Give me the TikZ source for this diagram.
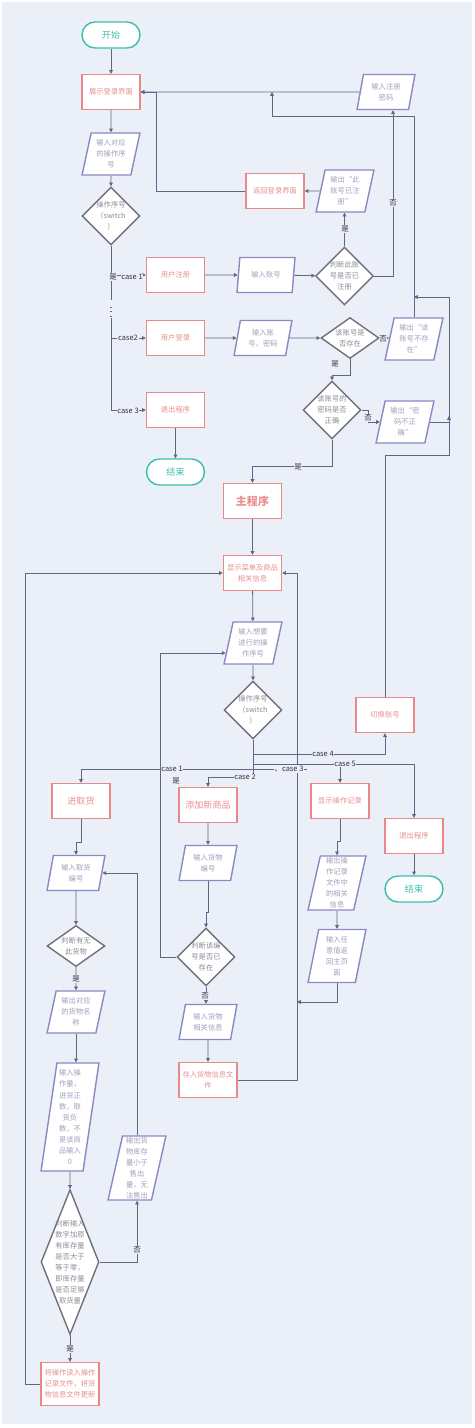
\documentclass[tikz,border=0pt]{standalone}
\usepackage{fontspec}
\setmainfont{Noto Sans CJK SC}
\usetikzlibrary{shapes.geometric,arrows.meta,calc}
\definecolor{bgblue}{RGB}{235,239,248}
\definecolor{procred}{RGB}{234,136,136}
\definecolor{proctext}{RGB}{232,142,142}
\definecolor{iopurple}{RGB}{140,136,196}
\definecolor{iotext}{RGB}{160,160,188}
\definecolor{judgegray}{RGB}{112,112,124}
\definecolor{judgetext}{RGB}{140,140,152}
\definecolor{termteal}{RGB}{62,190,172}
\definecolor{linegray}{RGB}{98,102,134}
\definecolor{lbltext}{RGB}{50,50,62}
\pgfdeclarelayer{bglayer}
\pgfdeclarelayer{edgelayer}
\pgfdeclarelayer{nodelayer}
\pgfsetlayers{bglayer,edgelayer,nodelayer,main}
\tikzstyle{tinytext}=[font=\fontsize{6.2}{9.4}\selectfont]
\tikzstyle{proc}=[rectangle,draw=procred,fill=white,text=proctext,line width=1.2pt,minimum width=1.74cm,minimum height=1.05cm,inner sep=1pt,align=center,tinytext]
\tikzstyle{io}=[trapezium,trapezium left angle=77,trapezium right angle=103,trapezium stretches=true,draw=iopurple,fill=white,text=iotext,line width=1.2pt,minimum width=1.74cm,minimum height=1.05cm,inner sep=0pt,align=center,tinytext]
\tikzstyle{judge}=[diamond,draw=judgegray,fill=white,line width=1.2pt,minimum width=1.74cm,minimum height=1.74cm,inner sep=0pt]
\tikzstyle{jtext}=[text=judgetext,align=center,inner sep=0pt,tinytext]
\tikzstyle{term}=[rectangle,rounded corners=0.39cm,draw=termteal,fill=white,text=termteal,line width=1.2pt,minimum width=1.74cm,minimum height=0.78cm,font=\fontsize{7.7}{9}\selectfont]
\tikzstyle{arrow}=[draw=linegray,line width=0.7pt,-{Triangle[length=3.2pt,width=3.2pt]}]
\tikzstyle{lbl}=[fill=bgblue,text=lbltext,inner sep=0.6pt,font=\fontsize{6.4}{7}\selectfont]
\begin{document}
\begin{tikzpicture}[x=0.03cm,y=-0.03cm]
	\useasboundingbox (0,0) rectangle (474,1428);
	\begin{pgfonlayer}{bglayer}
		\fill [white] (0,0) rectangle (474,1428);
		\fill [bgblue] (2,2) rectangle (472,1424);
	\end{pgfonlayer}
	\begin{pgfonlayer}{nodelayer}
		% login part
		\node [term] (0) at (111,35) {开始};
		\node [proc] (1) at (111,92) {展示登录界面};
		\node [io,minimum height=1.26cm] (2) at (111,154) {输入对应\\的操作序\\号};
		\node [judge,label={[jtext]center:操作序号\\（switch\\）}] (3) at (111,216) {};
		\node [io] (4) at (386,92) {输入注册\\密码};
		\node [proc] (5) at (275,191) {返回登录界面};
		\node [io,minimum height=1.26cm] (6) at (345,191) {输出“此\\账号已注\\册”};
		\node [proc] (7) at (175.5,275) {用户注册};
		\node [io] (8) at (266,275) {输入账号};
		\node [judge,label={[jtext]center:判断此账\\号是否已\\注册}] (9) at (344.5,276) {};
		\node [proc] (10) at (175.5,338) {用户登录};
		\node [io] (11) at (263,338) {输入账\\号、密码};
		\node [judge,minimum height=1.23cm,label={[jtext]center:该账号是\\否存在}] (12) at (350,338) {};
		\node [io,minimum height=1.26cm] (13) at (414,339) {输出“该\\账号不存\\在”};
		\node [judge,label={[jtext]center:该账号的\\密码是否\\正确}] (14) at (332,410) {};
		\node [io,minimum height=1.26cm] (15) at (405,422) {输出“密\\码不正\\确”};
		\node [proc] (16) at (175.5,410) {退出程序};
		\node [term] (17) at (175.5,472) {结束};
		% main program
		\node [proc,font={\bfseries\fontsize{9.4}{11}\selectfont}] (18) at (252.5,501) {主程序};
		\node [proc] (19) at (252.5,573) {显示菜单及商品\\相关信息};
		\node [io,minimum height=1.26cm] (20) at (253,643) {输入想要\\进行的操\\作序号};
		\node [judge,label={[jtext]center:操作序号\\（switch\\）}] (21) at (253,710) {};
		\node [proc] (22) at (385,715) {切换账号};
		\node [proc,font=\fontsize{7.7}{9}\selectfont] (23) at (81,801) {进取货};
		\node [proc,font=\fontsize{7.7}{9}\selectfont] (24) at (208,805) {添加新商品};
		\node [proc] (25) at (340,801) {显示操作记录};
		\node [proc] (26) at (414,836) {退出程序};
		\node [term] (27) at (414,889) {结束};
		\node [io] (28) at (76,873) {输入取货\\编号};
		\node [io] (29) at (208,863) {输入货物\\编号};
		\node [io,trapezium left angle=81,trapezium right angle=99,minimum height=1.62cm] (30) at (337,883) {输出操\\作记录\\文件中\\的相关\\信息};
		\node [io,trapezium left angle=81,trapezium right angle=99,minimum height=1.59cm] (31) at (337,956) {输入任\\意值返\\回主页\\面};
		\node [judge,minimum height=1.23cm,label={[jtext]center:判断有无\\此货物}] (32) at (76,946) {};
		\node [judge,label={[jtext]center:判断该编\\号是否已\\存在}] (33) at (206,957) {};
		\node [io,minimum height=1.26cm] (34) at (76,1012) {输出对应\\的货物名\\称};
		\node [io] (35) at (208,1022) {输入货物\\相关信息};
		\node [proc] (36) at (208,1080) {存入货物信息文\\件};
		\node [io,trapezium left angle=82,trapezium right angle=98,minimum height=3.24cm] (37) at (70,1117) {输入操\\作量，\\进货正\\数，取\\货负\\数，不\\是该商\\品输入\\0};
		\node [io,trapezium left angle=80,trapezium right angle=100,minimum height=1.92cm] (38) at (137,1168) {输出货\\物库存\\量小于\\售出\\量，无\\法售出};
		\node [judge,minimum height=4.35cm,label={[jtext]center:判断输入\\数字加原\\有库存量\\是否大于\\等于零，\\即库存量\\是否足够\\取货量}] (39) at (70,1262) {};
		\node [proc,minimum height=1.29cm] (40) at (70,1384) {将操作读入操作\\记录文件，将货\\物信息文件更新};
		% labels
		\node [lbl] (41) at (113,277) {是};
		\node [lbl] (42) at (132,277) {case 1};
		\node [lbl] (43) at (111,309) {$\vdots\!\vdots$};
		\node [lbl] (44) at (128,338) {case2};
		\node [lbl] (45) at (128,411) {case 3};
		\node [lbl] (46) at (345,229) {是};
		\node [lbl] (47) at (393,203) {否};
		\node [lbl] (48) at (383,339) {否};
		\node [lbl] (49) at (335,364) {是};
		\node [lbl] (50) at (368,418) {否};
		\node [lbl] (51) at (298,467) {是};
		\node [lbl] (52) at (323,754) {case 4};
		\node [lbl] (53) at (345,764) {case 5};
		\node [lbl] (54) at (289,769) {、case 3};
		\node [lbl] (55) at (172,769) {case 1};
		\node [lbl] (56) at (245,777) {case 2};
		\node [lbl] (57) at (176,781) {是};
		\node [lbl] (58) at (76,979) {是};
		\node [lbl] (59) at (205,996) {否};
		\node [lbl] (60) at (137,1250) {否};
		\node [lbl] (61) at (70,1349) {是};
		% bend points
		\node [] (c1) at (156,92) {};
		\node [] (c3) at (272,116) {};
		\node [] (c4) at (272,92) {};
		\node [] (c5) at (449,416) {};
		\node [] (c6) at (449,455) {};
		\node [] (c7) at (414,297) {};
		\node [] (c8) at (307,769) {};
		\node [] (c9) at (25,573) {};
		\node [] (c10) at (160,653) {};
		\node [] (c11) at ($(20.bottom left corner)!0.26!(20.top left corner)$) {};
		\node [] (c12) at (297,573) {};
		\node [] (c13) at (297,1002) {};
	\end{pgfonlayer}
	\begin{pgfonlayer}{edgelayer}
		\draw [arrow] (0) to (1);
		\draw [arrow] (1) to (2);
		\draw [arrow] (2) to (3);
		\draw [arrow] (3.south) |- (7.west);
		\draw [arrow] (3.south) |- (10.west);
		\draw [arrow] (3.south) |- (16.west);
		\draw [arrow] (7) to (8);
		\draw [arrow] (8) to (9);
		\draw [arrow] (9.north) to (9.north |- 6.south);
		\draw [arrow] (6) to (5);
		\draw [arrow] (5.west) -| (c1.center) to (1.east);
		\draw [arrow] (9.east) -| ($(4.south)+(7,0)$);
		\draw [arrow] (4) to (1);
		\draw [arrow] (13.north) |- (c3.center) to (c4.center);
		\draw [arrow] (10) to (11);
		\draw [arrow] (11) to (12);
		\draw [arrow] (12.east) to (12.east -| 13.west);
		\draw [arrow] (12.south) -- ++(0,16) -| (14.north);
		\draw [arrow] (14.east) -- ++(7,0) |- (15.west);
		\draw [arrow] (15.east) -| (c5.center);
		\draw [arrow] (22.north) |- (c6.center) |- (c7.center);
		\draw [arrow] (14.south) -- ++(0,27) -| (18.north);
		\draw [arrow] (16) to (17);
		\draw [arrow] (18) to (19);
		\draw [arrow] (19) to (20);
		\draw [arrow] (20) to (21);
		\draw [arrow] (21.south) -- ++(0,15) -| (22.south);
		\draw [arrow] (21.south) -- ++(0,25) -| (26.north);
		\draw [arrow] (21.south) -- ++(0,25) -| (25.north);
		\draw [arrow] (c8.center) -| (23.north);
		\draw [arrow] (21.south) -- ++(0,38) -| (24.north);
		\draw [arrow] (23.south) -- ++(0,23) -| (28.north);
		\draw [arrow] (28) to (32);
		\draw [arrow] (32) to (34);
		\draw [arrow] (34.south) to (34.south |- 37.north);
		\draw [arrow] (37) to (39);
		\draw [arrow] (39.east) -| (38.south);
		\draw [arrow] (38.north) |- (28.east);
		\draw [arrow] (39) to (40);
		\draw [arrow] (40.west) -| (c9.center) to (19.west);
		\draw [arrow] (24) to (29);
		\draw [arrow] (29.south) -- ++(0,31) -| (33.north);
		\draw [arrow] (33.west) -| (c10.center) to (c10.center -| c11.center);
		\draw [arrow] (33.south) to (33.south |- 35.north);
		\draw [arrow] (35) to (36);
		\draw [arrow] (36.east) -| (c12.center) to (19.east);
		\draw [arrow] (25.south) -- ++(0,22) -| (30.north);
		\draw [arrow] (30) to (31);
		\draw [arrow] (31.south) |- (c13.center);
		\draw [arrow] (26) to (27);
	\end{pgfonlayer}
\end{tikzpicture}
\end{document}
